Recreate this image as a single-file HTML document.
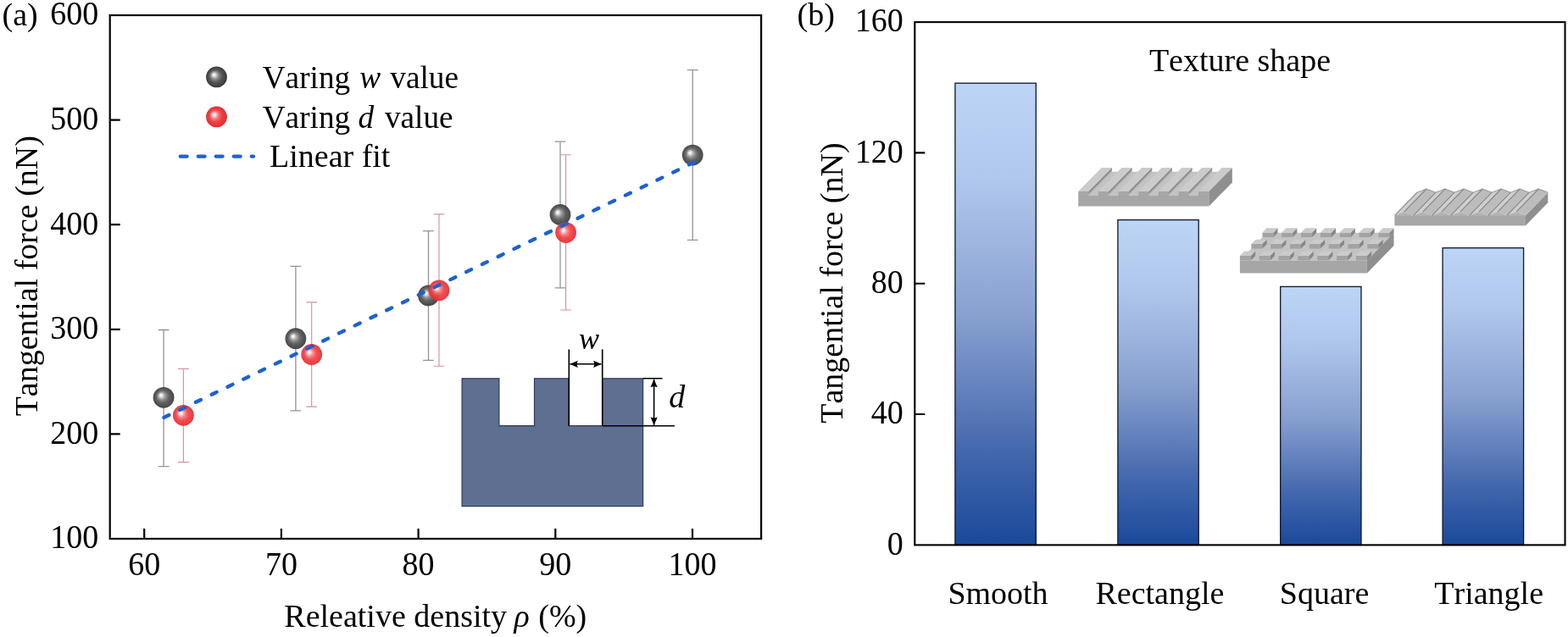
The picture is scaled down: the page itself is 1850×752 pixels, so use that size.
<!DOCTYPE html>
<html lang="en">
<head>
<meta charset="utf-8">
<title>Tangential force vs. relative density and texture shape</title>
<style>
html,body{margin:0;padding:0;background:#fff;}
body{width:1850px;height:752px;overflow:hidden;}
svg{display:block;font-family:"Liberation Serif","DejaVu Serif",serif;font-size:38px;fill:#000;}
svg text{fill:#000;font-kerning:none;}
</style>
</head>
<body>
<svg width="1850" height="752" viewBox="0 0 1850 752">
<defs>
<radialGradient id="gk" cx="0.5" cy="0.5" r="0.5" fx="0.36" fy="0.38"><stop offset="0" stop-color="#ffffff"/><stop offset="0.13" stop-color="#e6e6e6"/><stop offset="0.36" stop-color="#8c8c8c"/><stop offset="0.6" stop-color="#585858"/><stop offset="0.85" stop-color="#444444"/><stop offset="1" stop-color="#3a3a3a"/></radialGradient>
<radialGradient id="gr" cx="0.5" cy="0.5" r="0.5" fx="0.36" fy="0.38"><stop offset="0" stop-color="#ffffff"/><stop offset="0.13" stop-color="#fee4e4"/><stop offset="0.36" stop-color="#f57a7c"/><stop offset="0.6" stop-color="#ef4246"/><stop offset="0.85" stop-color="#ec3236"/><stop offset="1" stop-color="#e62d33"/></radialGradient>
<linearGradient id="gb" x1="0" y1="0" x2="0" y2="1"><stop offset="0" stop-color="#bcd5f6"/><stop offset="0.2" stop-color="#b1c8ed"/><stop offset="0.5" stop-color="#89a1d0"/><stop offset="0.8" stop-color="#4367ad"/><stop offset="1" stop-color="#1a499b"/></linearGradient>
<marker id="ah" viewBox="0 0 10 10" refX="10" refY="5" markerWidth="9.4" markerHeight="9.4" markerUnits="userSpaceOnUse" orient="auto-start-reverse"><path d="M0,0.6 L10,5 L0,9.4 L1.4,5 Z" fill="#000"/></marker>
</defs>
<rect x="0" y="0" width="1850" height="752" fill="#ffffff"/>
<g id="panel-a">
<path d="M193.1,389.5 V550.7 M186.7,389.5 H199.5 M186.7,550.7 H199.5" fill="none" stroke="#949494" stroke-width="1.3"/>
<path d="M348.9,314.4 V484.9 M342.5,314.4 H355.3 M342.5,484.9 H355.3" fill="none" stroke="#949494" stroke-width="1.3"/>
<path d="M505.5,272.6 V425.4 M499.1,272.6 H511.9 M499.1,425.4 H511.9" fill="none" stroke="#949494" stroke-width="1.3"/>
<path d="M661,167.1 V339.8 M654.6,167.1 H667.4 M654.6,339.8 H667.4" fill="none" stroke="#949494" stroke-width="1.3"/>
<path d="M817.2,82.7 V283.4 M810.8,82.7 H823.6 M810.8,283.4 H823.6" fill="none" stroke="#949494" stroke-width="1.3"/>
<path d="M216.4,435.4 V545.6 M210,435.4 H222.8 M210,545.6 H222.8" fill="none" stroke="#d8929d" stroke-width="1.15"/>
<path d="M367.7,356.9 V480.1 M361.3,356.9 H374.1 M361.3,480.1 H374.1" fill="none" stroke="#d8929d" stroke-width="1.15"/>
<path d="M518,252.9 V432.2 M511.6,252.9 H524.4 M511.6,432.2 H524.4" fill="none" stroke="#d8929d" stroke-width="1.15"/>
<path d="M667.6,182.7 V366 M661.2,182.7 H674 M661.2,366 H674" fill="none" stroke="#d8929d" stroke-width="1.15"/>
<circle cx="193.1" cy="469.3" r="12.4" fill="url(#gk)" opacity="0.93"/>
<circle cx="348.9" cy="399.7" r="12.4" fill="url(#gk)" opacity="0.93"/>
<circle cx="505.5" cy="348.9" r="12.4" fill="url(#gk)" opacity="0.93"/>
<circle cx="661" cy="253.4" r="12.4" fill="url(#gk)" opacity="0.93"/>
<circle cx="817.2" cy="183.1" r="12.4" fill="url(#gk)" opacity="0.93"/>
<circle cx="216.4" cy="490.3" r="12.4" fill="url(#gr)" opacity="0.93"/>
<circle cx="367.7" cy="418.5" r="12.4" fill="url(#gr)" opacity="0.93"/>
<circle cx="518" cy="342.8" r="12.4" fill="url(#gr)" opacity="0.93"/>
<circle cx="667.6" cy="274.6" r="12.4" fill="url(#gr)" opacity="0.93"/>
<line x1="193.4" y1="492.9" x2="819.4" y2="191.3" stroke="#1d61cf" stroke-width="4.3" stroke-linecap="round" stroke-dasharray="6.6 14.24"/>
<polygon points="545.1,446.8 588.9,446.8 588.9,502.7 630.5,502.7 630.5,446.8 671.3,446.8 671.3,502.7 710.7,502.7 710.7,446.8 758.6,446.8 758.6,597.6 545.1,597.6" fill="#5f6f92" stroke="#2c3a5e" stroke-width="1.2"/>
<g stroke="#000" stroke-width="1.6" fill="none">
<path d="M671.3,412.4 V502.7 M710.7,412.4 V502.7"/>
<path d="M758.6,446.8 H781.5 M710.7,502.8 H796"/>
<line x1="672.4" y1="429.8" x2="709.6" y2="429.8" marker-start="url(#ah)" marker-end="url(#ah)"/>
<line x1="771.6" y1="447.8" x2="771.6" y2="501.8" marker-start="url(#ah)" marker-end="url(#ah)"/>
</g>
<text x="695" y="412" font-size="36" font-style="italic" text-anchor="middle">w</text>
<text x="798.7" y="481.4" font-style="italic" text-anchor="middle">d</text>
<circle cx="255.5" cy="90.9" r="12.4" fill="url(#gk)"/>
<circle cx="255.5" cy="137.9" r="12.4" fill="url(#gr)"/>
<line x1="212.8" y1="184.7" x2="299" y2="184.7" stroke="#1d61cf" stroke-width="4.3" stroke-linecap="round" stroke-dasharray="7.8 13.2"/>
<text x="309.7" y="103.7" font-size="37.3">Varing <tspan font-style="italic" dx="1.6">w</tspan><tspan dx="1.9"> value</tspan></text>
<text x="309.7" y="150.7" font-size="37.3">Varing <tspan font-style="italic">d</tspan><tspan dx="3.3"> value</tspan></text>
<text x="318" y="197">Linear fit</text>
<rect x="129.7" y="18" width="768.4" height="618" fill="none" stroke="#000" stroke-width="2.2"/>
<path d="M129.7,512.4 h12 M129.7,388.8 h12 M129.7,265.2 h12 M129.7,141.6 h12 M170.2,636 v-12 M331.9,636 v-12 M493.6,636 v-12 M655.3,636 v-12 M817,636 v-12" fill="none" stroke="#000" stroke-width="2.2"/>
<text transform="translate(116.3 647.3) scale(1 1.04)" text-anchor="end">100</text>
<text transform="translate(116.3 523.7) scale(1 1.04)" text-anchor="end">200</text>
<text transform="translate(116.3 400.1) scale(1 1.04)" text-anchor="end">300</text>
<text transform="translate(116.3 276.5) scale(1 1.04)" text-anchor="end">400</text>
<text transform="translate(116.3 152.9) scale(1 1.04)" text-anchor="end">500</text>
<text transform="translate(116.3 29.3) scale(1 1.04)" text-anchor="end">600</text>
<text transform="translate(170.2 679) scale(1 1.04)" text-anchor="middle">60</text>
<text transform="translate(331.9 679) scale(1 1.04)" text-anchor="middle">70</text>
<text transform="translate(493.6 679) scale(1 1.04)" text-anchor="middle">80</text>
<text transform="translate(655.3 679) scale(1 1.04)" text-anchor="middle">90</text>
<text transform="translate(817 679) scale(1 1.04)" text-anchor="middle">100</text>
<text x="2.5" y="29.5">(a)</text>
<text transform="translate(44 325.7) rotate(-90)" text-anchor="middle">Tangential force (nN)</text>
<text x="513.8" y="740.1" text-anchor="middle">Releative density <tspan font-style="italic" dx="-1">ρ</tspan><tspan dx="1"> (%)</tspan></text>
</g>
<g id="panel-b">
<rect x="1126.9" y="98.2" width="95.4" height="545.2" fill="url(#gb)" stroke="#0d1526" stroke-width="1.3"/>
<rect x="1318.9" y="259.6" width="95.3" height="383.8" fill="url(#gb)" stroke="#0d1526" stroke-width="1.3"/>
<rect x="1510.7" y="338.4" width="95.3" height="305" fill="url(#gb)" stroke="#0d1526" stroke-width="1.3"/>
<rect x="1702.1" y="292.7" width="95.5" height="350.7" fill="url(#gb)" stroke="#0d1526" stroke-width="1.3"/>
<g id="tex-rect">
<polygon points="1272.2,230.8 1426.3,230.8 1453.8,202.8 1299.7,202.8" fill="#c3c3c3" />
<polygon points="1426.3,226 1453.8,198 1453.8,215.4 1426.3,243.4" fill="#8f8f8f" />
<polygon points="1272.2,230.8 1426.3,230.8 1426.3,243.4 1272.2,243.4" fill="#a6a6a6" />
<polygon points="1284.4,226 1311.9,198 1311.9,202.8 1284.4,230.8" fill="#b2b2b2" />
<polygon points="1284.4,226 1311.9,198 1311.9,200.78 1284.4,228.78" fill="#8b8b8b" />
<polygon points="1272.2,226 1284.4,226 1311.9,198 1299.7,198" fill="#cbcbcb" />
<polygon points="1272.2,226 1284.4,226 1284.4,231.1 1272.2,231.1" fill="#a6a6a6" />
<polygon points="1308.05,226 1335.55,198 1335.55,202.8 1308.05,230.8" fill="#b2b2b2" />
<polygon points="1308.05,226 1335.55,198 1335.55,200.78 1308.05,228.78" fill="#8b8b8b" />
<polygon points="1295.85,226 1308.05,226 1335.55,198 1323.35,198" fill="#cbcbcb" />
<polygon points="1295.85,226 1308.05,226 1308.05,231.1 1295.85,231.1" fill="#a6a6a6" />
<polygon points="1331.7,226 1359.2,198 1359.2,202.8 1331.7,230.8" fill="#b2b2b2" />
<polygon points="1331.7,226 1359.2,198 1359.2,200.78 1331.7,228.78" fill="#8b8b8b" />
<polygon points="1319.5,226 1331.7,226 1359.2,198 1347,198" fill="#cbcbcb" />
<polygon points="1319.5,226 1331.7,226 1331.7,231.1 1319.5,231.1" fill="#a6a6a6" />
<polygon points="1355.35,226 1382.85,198 1382.85,202.8 1355.35,230.8" fill="#b2b2b2" />
<polygon points="1355.35,226 1382.85,198 1382.85,200.78 1355.35,228.78" fill="#8b8b8b" />
<polygon points="1343.15,226 1355.35,226 1382.85,198 1370.65,198" fill="#cbcbcb" />
<polygon points="1343.15,226 1355.35,226 1355.35,231.1 1343.15,231.1" fill="#a6a6a6" />
<polygon points="1379,226 1406.5,198 1406.5,202.8 1379,230.8" fill="#b2b2b2" />
<polygon points="1379,226 1406.5,198 1406.5,200.78 1379,228.78" fill="#8b8b8b" />
<polygon points="1366.8,226 1379,226 1406.5,198 1394.3,198" fill="#cbcbcb" />
<polygon points="1366.8,226 1379,226 1379,231.1 1366.8,231.1" fill="#a6a6a6" />
<polygon points="1402.65,226 1430.15,198 1430.15,202.8 1402.65,230.8" fill="#b2b2b2" />
<polygon points="1402.65,226 1430.15,198 1430.15,200.78 1402.65,228.78" fill="#8b8b8b" />
<polygon points="1390.45,226 1402.65,226 1430.15,198 1417.95,198" fill="#cbcbcb" />
<polygon points="1390.45,226 1402.65,226 1402.65,231.1 1390.45,231.1" fill="#a6a6a6" />
<polygon points="1414.1,226 1426.3,226 1453.8,198 1441.6,198" fill="#cbcbcb" />
<polygon points="1414.1,226 1426.3,226 1426.3,231.1 1414.1,231.1" fill="#a6a6a6" />
</g>
<g id="tex-square">
<polygon points="1462.9,307.4 1612.9,307.4 1644.5,274.8 1494.5,274.8" fill="#c3c3c3" />
<polygon points="1612.9,307.4 1644.5,274.8 1644.5,290 1612.9,322.6" fill="#8f8f8f" />
<polygon points="1462.9,307.4 1612.9,307.4 1612.9,322.6 1462.9,322.6" fill="#a6a6a6" />
<polygon points="1502.44,274.52 1507.5,269.3 1507.5,274.8 1502.44,280.02" fill="#878787" />
<polygon points="1489.44,274.52 1502.44,274.52 1502.44,280.02 1489.44,280.02" fill="#a3a3a3" />
<polygon points="1489.44,274.52 1502.44,274.52 1507.5,269.3 1494.5,269.3" fill="#cbcbcb" />
<polygon points="1525.28,274.52 1530.33,269.3 1530.33,274.8 1525.28,280.02" fill="#878787" />
<polygon points="1512.28,274.52 1525.28,274.52 1525.28,280.02 1512.28,280.02" fill="#a3a3a3" />
<polygon points="1512.28,274.52 1525.28,274.52 1530.33,269.3 1517.33,269.3" fill="#cbcbcb" />
<polygon points="1548.11,274.52 1553.17,269.3 1553.17,274.8 1548.11,280.02" fill="#878787" />
<polygon points="1535.11,274.52 1548.11,274.52 1548.11,280.02 1535.11,280.02" fill="#a3a3a3" />
<polygon points="1535.11,274.52 1548.11,274.52 1553.17,269.3 1540.17,269.3" fill="#cbcbcb" />
<polygon points="1570.94,274.52 1576,269.3 1576,274.8 1570.94,280.02" fill="#878787" />
<polygon points="1557.94,274.52 1570.94,274.52 1570.94,280.02 1557.94,280.02" fill="#a3a3a3" />
<polygon points="1557.94,274.52 1570.94,274.52 1576,269.3 1563,269.3" fill="#cbcbcb" />
<polygon points="1593.78,274.52 1598.83,269.3 1598.83,274.8 1593.78,280.02" fill="#878787" />
<polygon points="1580.78,274.52 1593.78,274.52 1593.78,280.02 1580.78,280.02" fill="#a3a3a3" />
<polygon points="1580.78,274.52 1593.78,274.52 1598.83,269.3 1585.83,269.3" fill="#cbcbcb" />
<polygon points="1616.61,274.52 1621.67,269.3 1621.67,274.8 1616.61,280.02" fill="#878787" />
<polygon points="1603.61,274.52 1616.61,274.52 1616.61,280.02 1603.61,280.02" fill="#a3a3a3" />
<polygon points="1603.61,274.52 1616.61,274.52 1621.67,269.3 1608.67,269.3" fill="#cbcbcb" />
<polygon points="1639.44,274.52 1644.5,269.3 1644.5,274.8 1639.44,280.02" fill="#878787" />
<polygon points="1626.44,274.52 1639.44,274.52 1639.44,280.02 1626.44,280.02" fill="#a3a3a3" />
<polygon points="1626.44,274.52 1639.44,274.52 1644.5,269.3 1631.5,269.3" fill="#cbcbcb" />
<polygon points="1489.33,288.04 1494.54,282.67 1494.54,288.17 1489.33,293.54" fill="#878787" />
<polygon points="1476.33,288.04 1489.33,288.04 1489.33,293.54 1476.33,293.54" fill="#a3a3a3" />
<polygon points="1476.33,288.04 1489.33,288.04 1494.54,282.67 1481.54,282.67" fill="#cbcbcb" />
<polygon points="1512.16,288.04 1517.38,282.67 1517.38,288.17 1512.16,293.54" fill="#878787" />
<polygon points="1499.16,288.04 1512.16,288.04 1512.16,293.54 1499.16,293.54" fill="#a3a3a3" />
<polygon points="1499.16,288.04 1512.16,288.04 1517.38,282.67 1504.38,282.67" fill="#cbcbcb" />
<polygon points="1535,288.04 1540.21,282.67 1540.21,288.17 1535,293.54" fill="#878787" />
<polygon points="1522,288.04 1535,288.04 1535,293.54 1522,293.54" fill="#a3a3a3" />
<polygon points="1522,288.04 1535,288.04 1540.21,282.67 1527.21,282.67" fill="#cbcbcb" />
<polygon points="1557.83,288.04 1563.04,282.67 1563.04,288.17 1557.83,293.54" fill="#878787" />
<polygon points="1544.83,288.04 1557.83,288.04 1557.83,293.54 1544.83,293.54" fill="#a3a3a3" />
<polygon points="1544.83,288.04 1557.83,288.04 1563.04,282.67 1550.04,282.67" fill="#cbcbcb" />
<polygon points="1580.66,288.04 1585.88,282.67 1585.88,288.17 1580.66,293.54" fill="#878787" />
<polygon points="1567.66,288.04 1580.66,288.04 1580.66,293.54 1567.66,293.54" fill="#a3a3a3" />
<polygon points="1567.66,288.04 1580.66,288.04 1585.88,282.67 1572.88,282.67" fill="#cbcbcb" />
<polygon points="1603.5,288.04 1608.71,282.67 1608.71,288.17 1603.5,293.54" fill="#878787" />
<polygon points="1590.5,288.04 1603.5,288.04 1603.5,293.54 1590.5,293.54" fill="#a3a3a3" />
<polygon points="1590.5,288.04 1603.5,288.04 1608.71,282.67 1595.71,282.67" fill="#cbcbcb" />
<polygon points="1626.33,288.04 1631.54,282.67 1631.54,288.17 1626.33,293.54" fill="#878787" />
<polygon points="1613.33,288.04 1626.33,288.04 1626.33,293.54 1613.33,293.54" fill="#a3a3a3" />
<polygon points="1613.33,288.04 1626.33,288.04 1631.54,282.67 1618.54,282.67" fill="#cbcbcb" />
<polygon points="1475.9,301.9 1481.11,296.52 1481.11,302.02 1475.9,307.4" fill="#878787" />
<polygon points="1462.9,301.9 1475.9,301.9 1475.9,307.4 1462.9,307.4" fill="#a3a3a3" />
<polygon points="1462.9,301.9 1475.9,301.9 1481.11,296.52 1468.11,296.52" fill="#cbcbcb" />
<polygon points="1498.73,301.9 1503.95,296.52 1503.95,302.02 1498.73,307.4" fill="#878787" />
<polygon points="1485.73,301.9 1498.73,301.9 1498.73,307.4 1485.73,307.4" fill="#a3a3a3" />
<polygon points="1485.73,301.9 1498.73,301.9 1503.95,296.52 1490.95,296.52" fill="#cbcbcb" />
<polygon points="1521.57,301.9 1526.78,296.52 1526.78,302.02 1521.57,307.4" fill="#878787" />
<polygon points="1508.57,301.9 1521.57,301.9 1521.57,307.4 1508.57,307.4" fill="#a3a3a3" />
<polygon points="1508.57,301.9 1521.57,301.9 1526.78,296.52 1513.78,296.52" fill="#cbcbcb" />
<polygon points="1544.4,301.9 1549.61,296.52 1549.61,302.02 1544.4,307.4" fill="#878787" />
<polygon points="1531.4,301.9 1544.4,301.9 1544.4,307.4 1531.4,307.4" fill="#a3a3a3" />
<polygon points="1531.4,301.9 1544.4,301.9 1549.61,296.52 1536.61,296.52" fill="#cbcbcb" />
<polygon points="1567.23,301.9 1572.45,296.52 1572.45,302.02 1567.23,307.4" fill="#878787" />
<polygon points="1554.23,301.9 1567.23,301.9 1567.23,307.4 1554.23,307.4" fill="#a3a3a3" />
<polygon points="1554.23,301.9 1567.23,301.9 1572.45,296.52 1559.45,296.52" fill="#cbcbcb" />
<polygon points="1590.07,301.9 1595.28,296.52 1595.28,302.02 1590.07,307.4" fill="#878787" />
<polygon points="1577.07,301.9 1590.07,301.9 1590.07,307.4 1577.07,307.4" fill="#a3a3a3" />
<polygon points="1577.07,301.9 1590.07,301.9 1595.28,296.52 1582.28,296.52" fill="#cbcbcb" />
<polygon points="1612.9,301.9 1618.11,296.52 1618.11,302.02 1612.9,307.4" fill="#878787" />
<polygon points="1599.9,301.9 1612.9,301.9 1612.9,307.4 1599.9,307.4" fill="#a3a3a3" />
<polygon points="1599.9,301.9 1612.9,301.9 1618.11,296.52 1605.11,296.52" fill="#cbcbcb" />
</g>
<g id="tex-tri">
<polygon points="1800,254.3 1826.3,227.2 1826.3,239.2 1800,266.3" fill="#8f8f8f" />
<polygon points="1645.6,254.3 1656.63,250.1 1682.93,223 1671.9,227.2" fill="#cfcfcf" />
<polygon points="1656.63,250.1 1667.66,254.3 1693.96,227.2 1682.93,223" fill="#bcbcbc" />
<polygon points="1667.66,254.3 1678.69,250.1 1704.99,223 1693.96,227.2" fill="#cfcfcf" />
<polygon points="1678.69,250.1 1689.71,254.3 1716.01,227.2 1704.99,223" fill="#bcbcbc" />
<polygon points="1689.71,254.3 1700.74,250.1 1727.04,223 1716.01,227.2" fill="#cfcfcf" />
<polygon points="1700.74,250.1 1711.77,254.3 1738.07,227.2 1727.04,223" fill="#bcbcbc" />
<polygon points="1711.77,254.3 1722.8,250.1 1749.1,223 1738.07,227.2" fill="#cfcfcf" />
<polygon points="1722.8,250.1 1733.83,254.3 1760.13,227.2 1749.1,223" fill="#bcbcbc" />
<polygon points="1733.83,254.3 1744.86,250.1 1771.16,223 1760.13,227.2" fill="#cfcfcf" />
<polygon points="1744.86,250.1 1755.89,254.3 1782.19,227.2 1771.16,223" fill="#bcbcbc" />
<polygon points="1755.89,254.3 1766.91,250.1 1793.21,223 1782.19,227.2" fill="#cfcfcf" />
<polygon points="1766.91,250.1 1777.94,254.3 1804.24,227.2 1793.21,223" fill="#bcbcbc" />
<polygon points="1777.94,254.3 1788.97,250.1 1815.27,223 1804.24,227.2" fill="#cfcfcf" />
<polygon points="1788.97,250.1 1800,254.3 1826.3,227.2 1815.27,223" fill="#bcbcbc" />
<polygon points="1645.6,266.3 1645.6,254.3 1656.63,250.1 1667.66,254.3 1678.69,250.1 1689.71,254.3 1700.74,250.1 1711.77,254.3 1722.8,250.1 1733.83,254.3 1744.86,250.1 1755.89,254.3 1766.91,250.1 1777.94,254.3 1788.97,250.1 1800,254.3 1800,266.3" fill="#b3b3b3" />
<polygon points="1645.6,254.7 1800,254.7 1800,266.3 1645.6,266.3" fill="#a7a7a7" />
<path d="M1645.6,254.3 l26.3,-27.1 M1656.63,250.1 l26.3,-27.1 M1667.66,254.3 l26.3,-27.1 M1678.69,250.1 l26.3,-27.1 M1689.71,254.3 l26.3,-27.1 M1700.74,250.1 l26.3,-27.1 M1711.77,254.3 l26.3,-27.1 M1722.8,250.1 l26.3,-27.1 M1733.83,254.3 l26.3,-27.1 M1744.86,250.1 l26.3,-27.1 M1755.89,254.3 l26.3,-27.1 M1766.91,250.1 l26.3,-27.1 M1777.94,254.3 l26.3,-27.1 M1788.97,250.1 l26.3,-27.1" fill="none" stroke="#858585" stroke-width="1.1"/>
<polyline points="1671.9,227.2 1682.93,223 1693.96,227.2 1704.99,223 1716.01,227.2 1727.04,223 1738.07,227.2 1749.1,223 1760.13,227.2 1771.16,223 1782.19,227.2 1793.21,223 1804.24,227.2 1815.27,223 1826.3,227.2" fill="none" stroke="#8b8b8b" stroke-width="0.9"/>
</g>
<rect x="1079.3" y="26.1" width="767.2" height="617.3" fill="none" stroke="#000" stroke-width="2.1"/>
<path d="M1079.3,489.07 h12 M1079.3,334.75 h12 M1079.3,180.42 h12" fill="none" stroke="#000" stroke-width="2.1"/>
<text transform="translate(1065.8 654.7) scale(1 1.04)" text-anchor="end">0</text>
<text transform="translate(1065.8 500.38) scale(1 1.04)" text-anchor="end">40</text>
<text transform="translate(1065.8 346.05) scale(1 1.04)" text-anchor="end">80</text>
<text transform="translate(1065.8 191.72) scale(1 1.04)" text-anchor="end">120</text>
<text transform="translate(1065.8 37.4) scale(1 1.04)" text-anchor="end">160</text>
<text x="940.5" y="29.5">(b)</text>
<text transform="translate(993.7 334.1) rotate(-90)" text-anchor="middle">Tangential force (nN)</text>
<text x="1463" y="84" text-anchor="middle">Texture shape</text>
<text x="1177.5" y="712.5" text-anchor="middle">Smooth</text>
<text x="1368.4" y="712.5" text-anchor="middle">Rectangle</text>
<text x="1562.6" y="712.5" text-anchor="middle">Square</text>
<text x="1756.7" y="712.5" text-anchor="middle">Triangle</text>
</g>
</svg>
</body>
</html>
